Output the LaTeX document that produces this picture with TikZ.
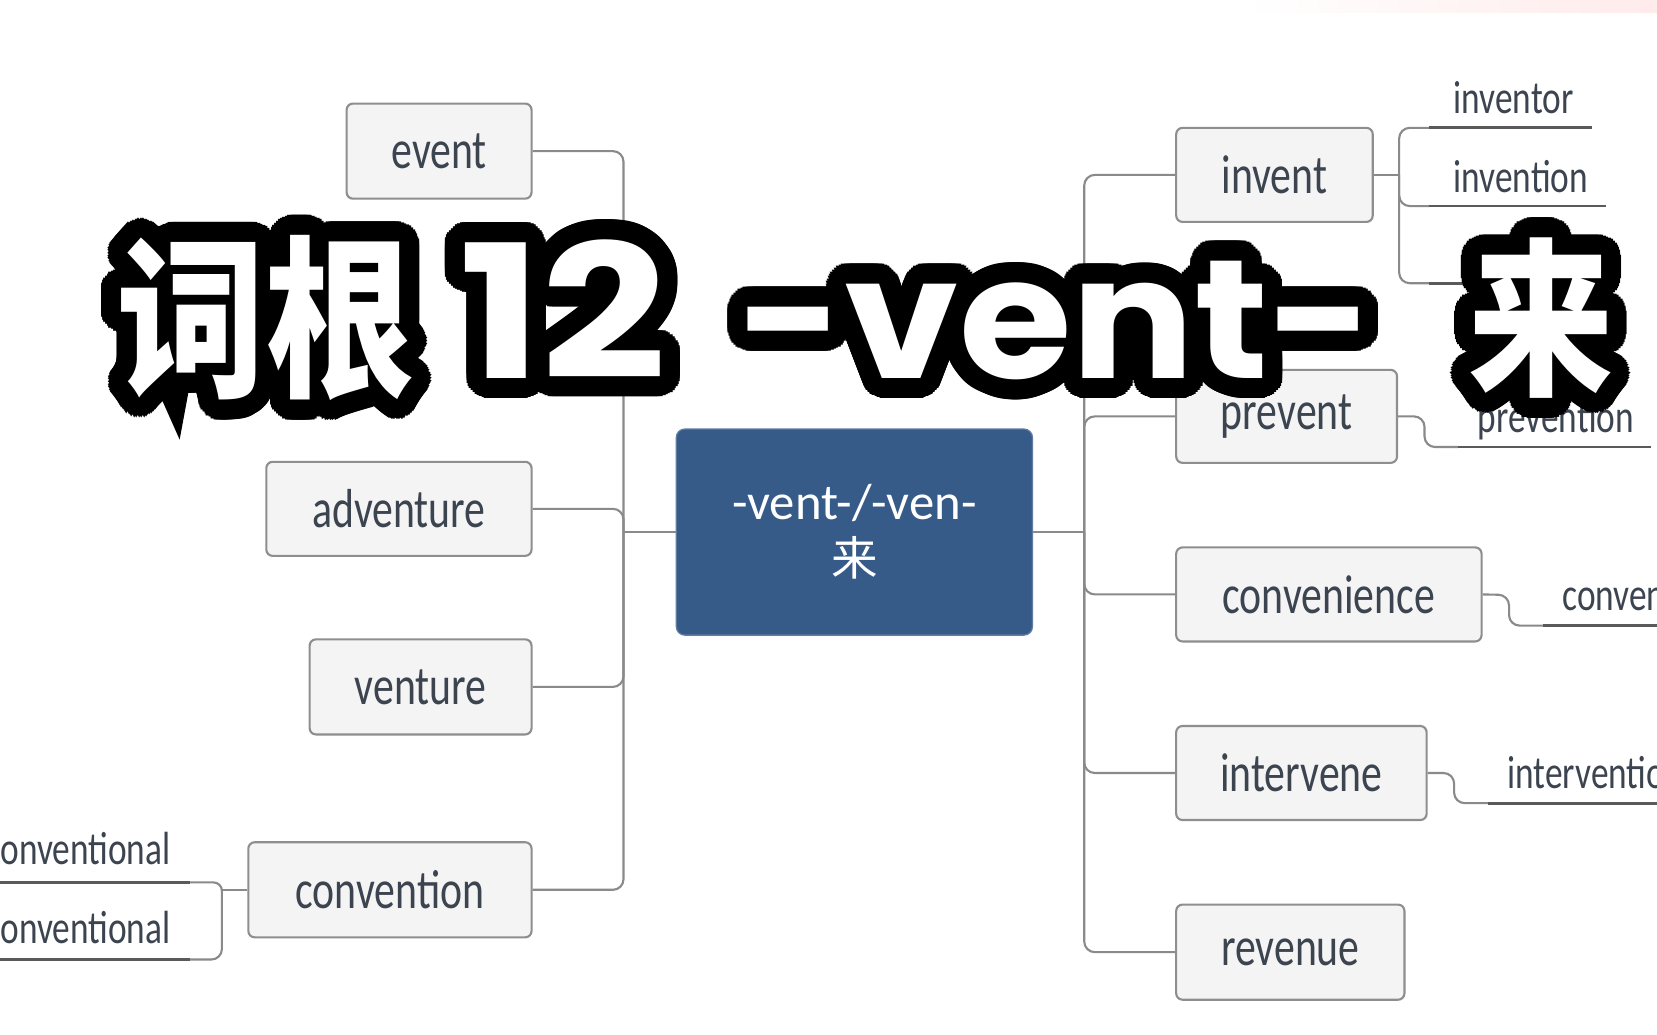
\documentclass[tikz,border=0pt]{standalone}
\usepackage{fontspec}
\usepackage{contour}
\usepackage{graphicx}
\newfontfamily\boxfont{Carlito}[FakeStretch=0.76]
\newfontfamily\plainfont{Carlito}
\newfontfamily\cjk{Noto Sans CJK SC}
\newfontfamily\titlelat{Poppins}
\newfontfamily\titlecjk{Noto Sans CJK SC}
\contourlength{9.5pt}
\contournumber{48}
\definecolor{boxfill}{HTML}{F4F4F4}
\definecolor{boxline}{HTML}{8E8E8E}
\definecolor{conn}{HTML}{8A8A8A}
\definecolor{txt}{HTML}{3C4450}
\definecolor{ulin}{HTML}{5A5A5A}
\definecolor{rootblue}{HTML}{375B89}
\tikzset{
  wbox/.style={draw=boxline, fill=boxfill, line width=1pt, rounded corners=3pt,
    inner sep=0pt, text=txt, font=\boxfont\fontsize{26}{28}\selectfont},
  rootbox/.style={fill=rootblue, draw=rootblue!80!white, line width=0.6pt, rounded corners=4pt,
    inner sep=0pt, text=white, align=center, minimum width=168.5pt, minimum height=97.5pt,
    font=\plainfont\fontsize{24}{26.5}\selectfont},
  kid/.style={inner sep=0pt, text=txt, font=\boxfont\fontsize{22}{24}\selectfont},
  link/.style={draw=conn, line width=1pt, rounded corners=5pt},
  uline/.style={draw=ulin, line width=1.3pt},
  ttl/.style={inner sep=0pt, anchor=base, text=white}
}
\begin{document}
\begin{tikzpicture}[x=0.5pt, y=-0.5pt]
\useasboundingbox (0,0) rectangle (1568,979);
\clip (0,0) rectangle (1568,979);
\fill[white] (0,0) rectangle (1568,979);
\shade[left color=white, right color=red!8] (1180,0) rectangle (1568,12);

% root
\node[rootbox] (root) at (808.5,503.5) {-vent-/-ven-\\[0pt]{\cjk\fontsize{22}{26.5}\selectfont 来}};

% left nodes
\node[wbox, minimum width=87.5pt, minimum height=45pt] (event) at (415.5,143) {event};
\node[wbox, minimum width=125.5pt, minimum height=44.5pt] (adventure) at (377.5,481.5) {adventure};
\node[wbox, minimum width=105pt, minimum height=45pt] (venture) at (398,650) {venture};
\node[wbox, minimum width=134pt, minimum height=45pt] (convention) at (369,842) {convention};

% right nodes
\node[wbox, minimum width=93pt, minimum height=44.5pt] (invent) at (1206,165.5) {invent};
\node[wbox, minimum width=104.5pt, minimum height=44pt] (prevent) at (1217.5,394) {prevent};
\node[wbox, minimum width=144.5pt, minimum height=44.5pt] (convenience) at (1257.5,562.5) {convenience};
\node[wbox, minimum width=118.5pt, minimum height=44.5pt] (intervene) at (1231.5,731.5) {intervene};
\node[wbox, minimum width=108pt, minimum height=45pt] (revenue) at (1221,901) {revenue};

% trunks
\coordinate (tl) at (590,503.5);
\coordinate (tr) at (1026,503.5);
\draw[link] (root.west) -- (tl);
\draw[link] (root.east) -- (tr);
\foreach \n in {event,adventure,venture,convention}{
  \draw[link] (\n.east) -| (tl);
}
\foreach \n in {invent,prevent,convenience,intervene,revenue}{
  \draw[link] (tr) |- (\n.west);
}

% invent children
\coordinate (ja) at (1324,165.5);
\coordinate (inventorL) at (1352,121);
\coordinate (inventorR) at (1506,121);
\coordinate (inventionL) at (1352,195);
\coordinate (inventionR) at (1520,195);
\coordinate (thirdL) at (1352,268);
\coordinate (thirdR) at (1520,268);
\draw[link] (invent.east) -- (ja);
\draw[link] (ja) |- (inventorL);
\draw[link] (ja) |- (inventionL);
\draw[link] (ja) |- (thirdL);
\draw[uline] (inventorL) -- (inventorR);
\draw[uline] (inventionL) -- (inventionR);
\draw[uline] (thirdL) -- (thirdR);
\node[kid, anchor=base west] (inventor) at (1375,107) {inventor};
\node[kid, anchor=base west] (invention) at (1375,182) {invention};

% prevent child
\coordinate (jb) at (1348,394);
\coordinate (preventionL) at (1380,423);
\coordinate (preventionR) at (1562,423);
\draw[link] (prevent.east) -- (jb) |- (preventionL);
\draw[uline] (preventionL) -- (preventionR);
\node[kid, anchor=base west] (prevention) at (1398,409) {prevention};

% convenience child
\coordinate (jc) at (1428,563);
\coordinate (convL) at (1460,592);
\coordinate (convR) at (1570,592);
\draw[link] (convenience.east) -- (jc) |- (convL);
\draw[uline] (convL) -- (convR);
\node[kid, anchor=base west] (convenient) at (1478,578) {convenient};

% intervene child
\coordinate (jd) at (1376,731.5);
\coordinate (intL) at (1408,760);
\coordinate (intR) at (1570,760);
\draw[link] (intervene.east) -- (jd) |- (intL);
\draw[uline] (intL) -- (intR);
\node[kid, anchor=base west] (intervention) at (1426,746) {intervention};

% convention children
\coordinate (je) at (210,842);
\coordinate (cv1R) at (180,835);
\coordinate (cv1L) at (-2,835);
\coordinate (cv2R) at (180,908);
\coordinate (cv2L) at (-2,908);
\draw[link] (convention.west) -- (je);
\draw[link, rounded corners=4pt] (je) |- (cv1R);
\draw[link] (je) |- (cv2R);
\draw[uline] (cv1L) -- (cv1R);
\draw[uline] (cv2L) -- (cv2R);
\node[kid, anchor=base west] (conv1) at (0,818) {onventional};
\node[kid, anchor=base west] (conv2) at (0,893) {onventional};

% title
\fill[black] (146,362) -- (170,416) -- (180,362) -- cycle;
\node[ttl] (t1) at (251,363) {\titlecjk\bfseries\fontsize{82}{86}\selectfont\color{white}\contour{black}{\scalebox{0.86}[1]{词根}}};
\node[ttl] (t2) at (533,358) {\titlelat\bfseries\fontsize{88}{90}\selectfont\color{white}\contour{black}{\scalebox{1.18}[1]{12}}};
\node[ttl] (t3) at (1000,358) {\titlelat\bfseries\fontsize{80}{90}\selectfont\color{white}\contour{black}{\scalebox{1.08}[1]{-vent-}}};
\node[ttl] (t4) at (1458,362) {\titlecjk\bfseries\fontsize{80}{84}\selectfont\color{white}\contour{black}{\scalebox{0.86}[1]{来}}};
\end{tikzpicture}
\end{document}
